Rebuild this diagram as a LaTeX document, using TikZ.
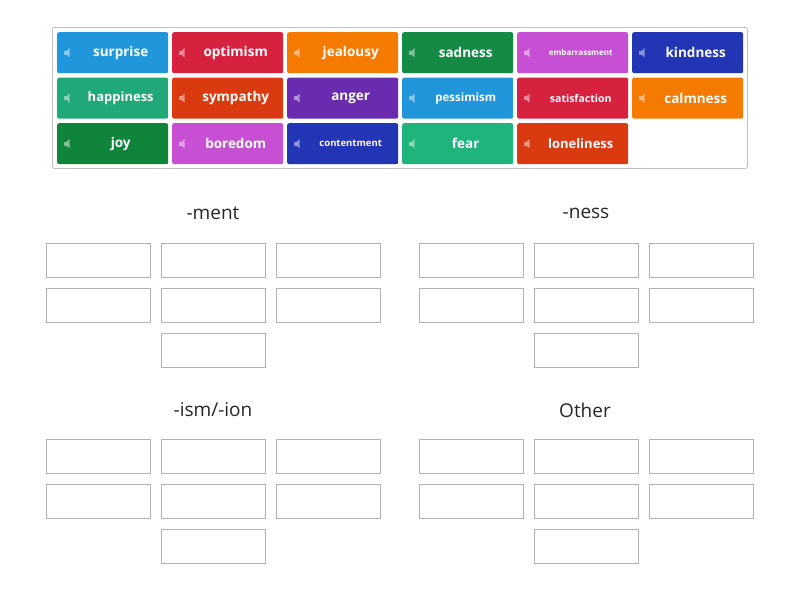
\documentclass[tikz,border=0pt]{standalone}
\usepackage{fontspec}
\setmainfont{Open Sans}
\begin{document}
\begin{tikzpicture}[x=1pt,y=-1pt,
  tile/.style={draw=none,rounded corners=2pt,minimum width=111pt,minimum height=41pt,inner sep=0pt},
  word/.style={text=white,font=\bfseries\fontsize{13.5}{15}\selectfont,anchor=center},
  slot/.style={draw=black!30,line width=0.8pt,fill=white,minimum width=104pt,minimum height=34pt,inner sep=0pt},
  head/.style={font=\fontsize{19}{22}\selectfont,text=black!85}]
\useasboundingbox (0,0) rectangle (800,600);
\fill[white] (0,0) rectangle (800,600);
\node[draw=black!25,line width=0.8pt,rounded corners=2pt,minimum width=695pt,minimum height=141pt,anchor=north west] (tray) at (52,27) {};
\definecolor{cA}{HTML}{2196DB}
\definecolor{cB}{HTML}{D7223F}
\definecolor{cC}{HTML}{F47A02}
\definecolor{cD}{HTML}{148A44}
\definecolor{cE}{HTML}{C64FD3}
\definecolor{cF}{HTML}{2135B5}
\definecolor{cG}{HTML}{21A878}
\definecolor{cH}{HTML}{D93A10}
\definecolor{cI}{HTML}{6A2BB0}
\definecolor{cJ}{HTML}{11843B}
\definecolor{cK}{HTML}{1FB47C}
\newcommand{\tl}[6]{% name, col, row, color, text, size
  \node[tile,fill=#4,anchor=north west] (#1) at ({57+115*#2},{32+45.5*#3}) {};
  \fill[white,opacity=0.45] ($(#1.west)+(7,-2)$) rectangle ++(2.5,4);
  \fill[white,opacity=0.45] ($(#1.west)+(9.5,-2)$) -- ++(3,-2.5) -- ++(0,9) -- ++(-3,-2.5) -- cycle;
  \node[word,font=\bfseries\fontsize{#6}{15}\selectfont] (#1t) at ($(#1.center)+(8,0)$) {#5};}
\usetikzlibrary{calc}
\tl{t1}{0}{0}{cA}{surprise}{13.5}
\tl{t2}{1}{0}{cB}{optimism}{13.5}
\tl{t3}{2}{0}{cC}{jealousy}{13.5}
\tl{t4}{3}{0}{cD}{sadness}{13.5}
\tl{t5}{4}{0}{cE}{embarrassment}{8}
\tl{t6}{5}{0}{cF}{kindness}{13.5}
\tl{t7}{0}{1}{cG}{happiness}{13}
\tl{t8}{1}{1}{cH}{sympathy}{13.5}
\tl{t9}{2}{1}{cI}{anger}{13.5}
\tl{t10}{3}{1}{cA}{pessimism}{11.5}
\tl{t11}{4}{1}{cB}{satisfaction}{10.5}
\tl{t12}{5}{1}{cC}{calmness}{13.5}
\tl{t13}{0}{2}{cJ}{joy}{13.5}
\tl{t14}{1}{2}{cE}{boredom}{13.5}
\tl{t15}{2}{2}{cF}{contentment}{9.5}
\tl{t16}{3}{2}{cK}{fear}{13.5}
\tl{t17}{4}{2}{cH}{loneliness}{13}
\node[head] (h1) at (213,213) {-ment};
\node[head] (h2) at (586,213) {-ness};
\node[head] (h3) at (213,410) {-ism/-ion};
\node[head] (h4) at (585,410) {Other};
\foreach \gx/\gy/\g in {46/243/a,419/243/b,46/439/c,419/439/d}{
  \foreach \i in {0,1,2}{
    \foreach \j in {0,1}{
      \node[slot,anchor=north west] (s\g\i\j) at ({\gx+115*\i},{\gy+45*\j}) {};
    }
  }
  \node[slot,anchor=north west] (s\g x) at ({\gx+115},{\gy+90}) {};
}
\end{tikzpicture}
\end{document}
